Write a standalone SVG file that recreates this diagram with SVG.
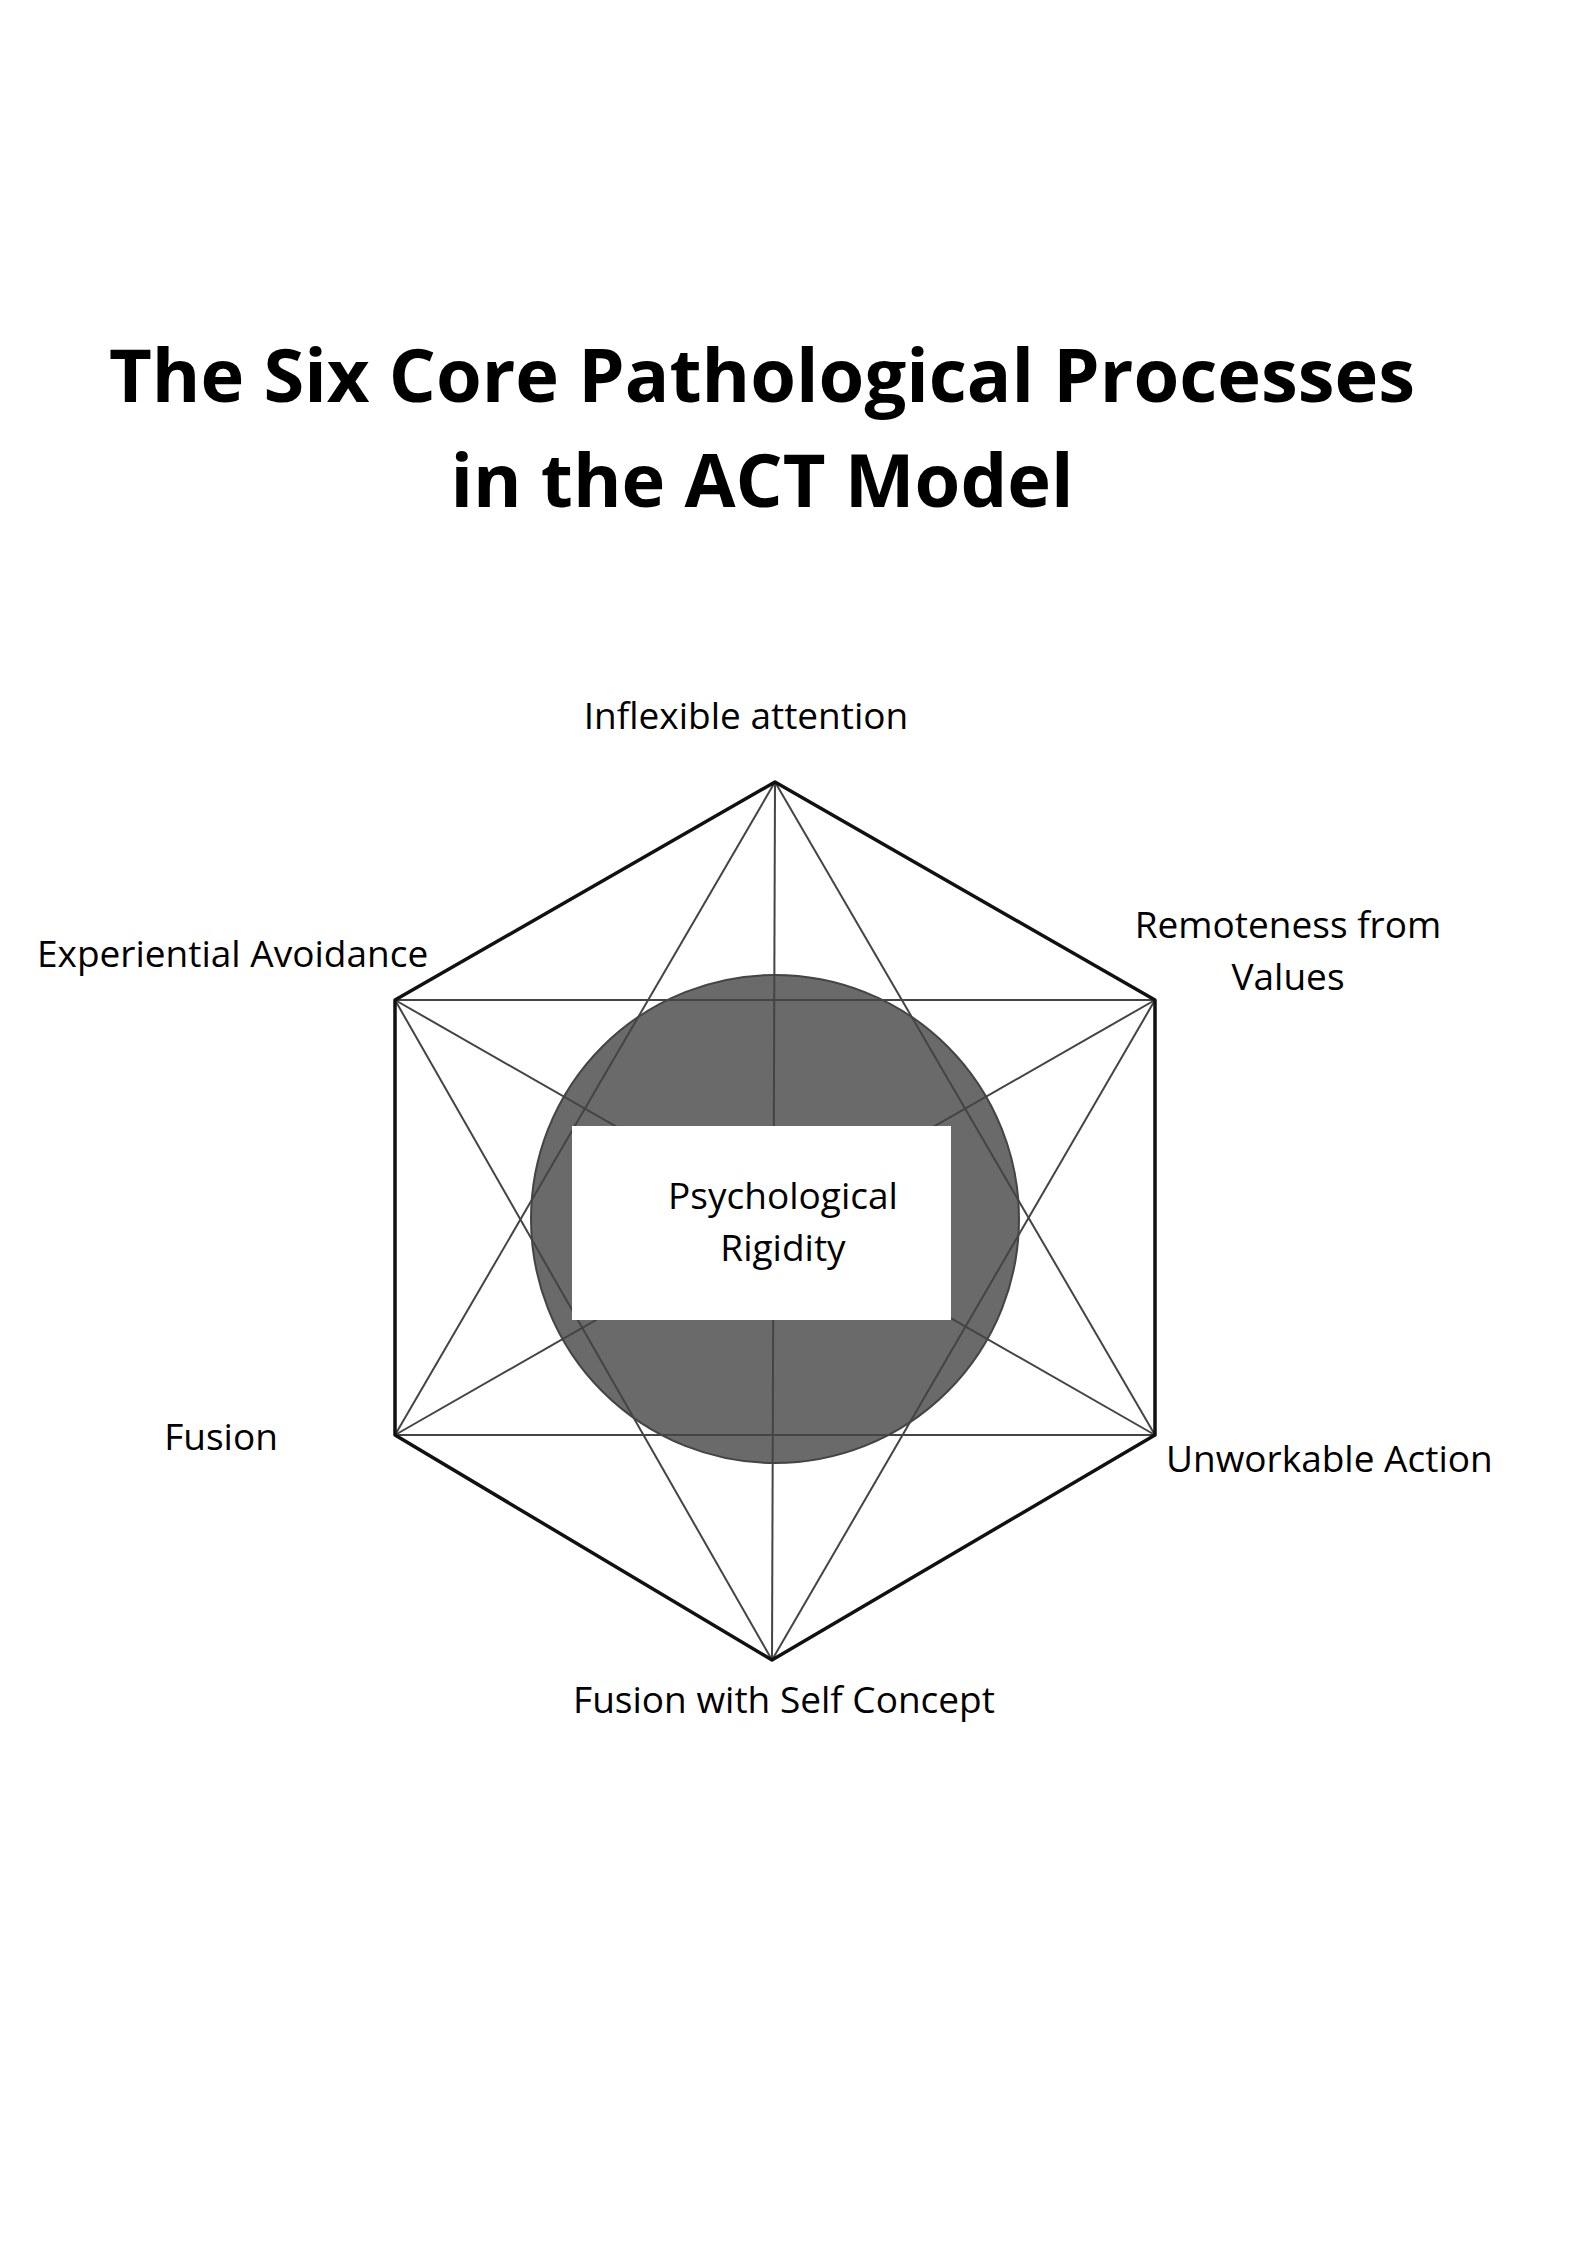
<svg xmlns="http://www.w3.org/2000/svg" width="1587" height="2245" viewBox="0 0 1587 2245">
<style>
.t{font-family:"Open Sans","Liberation Sans",sans-serif;fill:#000}
.title{font-size:74px;font-weight:bold;text-anchor:middle}
.lbl{font-size:37px}
.in{stroke:#444;stroke-width:2;fill:none}
.out{stroke:#111;stroke-width:3.5;fill:none;stroke-linejoin:round}
</style>
<rect width="1587" height="2245" fill="#fff"/>
<text class="t title" x="762" y="402">The Six Core Pathological Processes</text>
<text class="t title" x="762" y="507">in the ACT Model</text>
<circle cx="775" cy="1219" r="244" fill="#6a6a6a" stroke="#444" stroke-width="2"/>
<g id="connectors">
<line class="in" x1="775" y1="782" x2="395" y2="1435"/>
<line class="in" x1="775" y1="782" x2="1155" y2="1435"/>
<line class="in" x1="775" y1="782" x2="772" y2="1660"/>
<line class="in" x1="395" y1="1000" x2="1155" y2="1000"/>
<line class="in" x1="395" y1="1000" x2="1155" y2="1435"/>
<line class="in" x1="395" y1="1000" x2="772" y2="1660"/>
<line class="in" x1="1155" y1="1000" x2="395" y2="1435"/>
<line class="in" x1="1155" y1="1000" x2="772" y2="1660"/>
<line class="in" x1="395" y1="1435" x2="1155" y2="1435"/>
<polygon class="out" points="775,782 1155,1000 1155,1435 772,1660 395,1435 395,1000"/>
</g>
<g id="center"><rect x="572" y="1126" width="379" height="194" fill="#fff"/>
<text class="t lbl" text-anchor="middle" x="783" y="1209">Psychological</text>
<text class="t lbl" text-anchor="middle" x="783" y="1261">Rigidity</text></g>
<g id="n1"><text class="t lbl" text-anchor="middle" x="746" y="729">Inflexible attention</text></g>
<g id="n2"><text class="t lbl" x="37" y="967">Experiential Avoidance</text></g>
<g id="n3"><text class="t lbl" text-anchor="middle" x="1288" y="938">Remoteness from</text><text class="t lbl" text-anchor="middle" x="1288" y="990">Values</text></g>
<g id="n4"><text class="t lbl" text-anchor="middle" x="221" y="1450">Fusion</text></g>
<g id="n5"><text class="t lbl" x="1166" y="1472">Unworkable Action</text></g>
<g id="n6"><text class="t lbl" text-anchor="middle" x="784" y="1713">Fusion with Self Concept</text></g>
</svg>
